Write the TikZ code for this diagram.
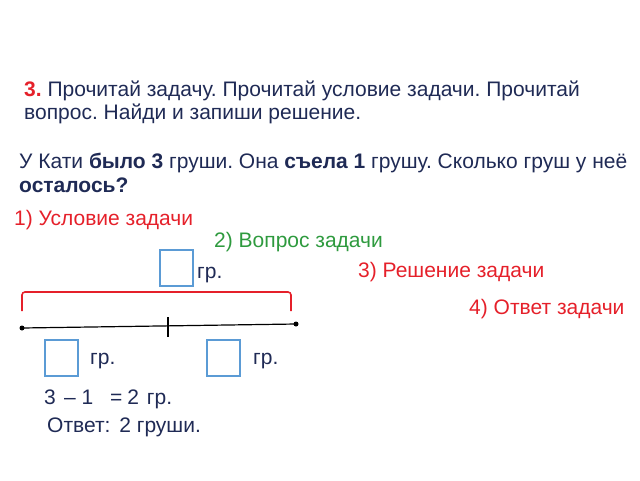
\documentclass[tikz,border=0pt]{standalone}
\usepackage{fontspec}
\setmainfont{Liberation Sans}
\definecolor{navy}{HTML}{1F2A55}
\definecolor{myred}{HTML}{E5202A}
\definecolor{mygreen}{HTML}{2E9A3E}
\definecolor{boxblue}{HTML}{5B9BD5}
\frenchspacing
\begin{document}
\begin{tikzpicture}[x=1pt,y=-1pt,
  txt/.style={anchor=base west,inner sep=0pt,font=\fontsize{21}{25}\selectfont,text=navy},
  redtxt/.style={txt,text=myred},
  greentxt/.style={txt,text=mygreen},
  ansbox/.style={draw=boxblue,line width=1.2pt,minimum width=33pt,minimum height=36pt,inner sep=0pt},
  dot/.style={circle,fill=black,inner sep=0pt,minimum size=5pt}]
\useasboundingbox (0,0) rectangle (640,480);
\node[txt] (t1) at (24,96) {\textcolor{myred}{\textbf{3.}} Прочитай задачу. Прочитай условие задачи. Прочитай};
\node[txt] (t2) at (24,119) {вопрос. Найди и запиши решение.};
\node[txt] (t3) at (19,168) {У Кати \textbf{было 3} груши. Она \textbf{съела 1} грушу. Сколько груш у неё};
\node[txt] (t4) at (19,192) {\textbf{осталось?}};
\node[redtxt] (l1) at (14,225) {1) Условие задачи};
\node[greentxt] (l2) at (214,247) {2) Вопрос задачи};
\node[redtxt] (l3) at (358,277) {3) Решение задачи};
\node[redtxt] (l4) at (469,314) {4) Ответ задачи};
\node[ansbox] (bt) at (176.5,268) {};
\node[txt] (gt) at (197,278) {гр.};
\draw[myred,line width=1.6pt,rounded corners=3pt] (22,311) -- (22,292) -- (291,292) -- (291,311);
\node[dot] (p1) at (22,328) {};
\node[dot] (p2) at (296,324) {};
\draw[black,line width=1.2pt] (p1.center) -- (p2.center);
\coordinate (k1) at (168,317);
\coordinate (k2) at (168,337);
\draw[black,line width=1.4pt] (k1) -- (k2);
\node[ansbox] (bl) at (61.5,358) {};
\node[ansbox] (br) at (223.5,358) {};
\node[txt] (gl) at (90,364) {гр.};
\node[txt] (gr) at (253,364) {гр.};
\node[txt] (eq) at (44,404) {3\hspace{2.5pt} – 1 \hspace{11pt}=\hspace{5pt}2 \hspace{2pt}гр.};
\node[txt] (ans) at (47,432) {Ответ: \hspace{3pt}2 груши.};
\end{tikzpicture}
\end{document}
